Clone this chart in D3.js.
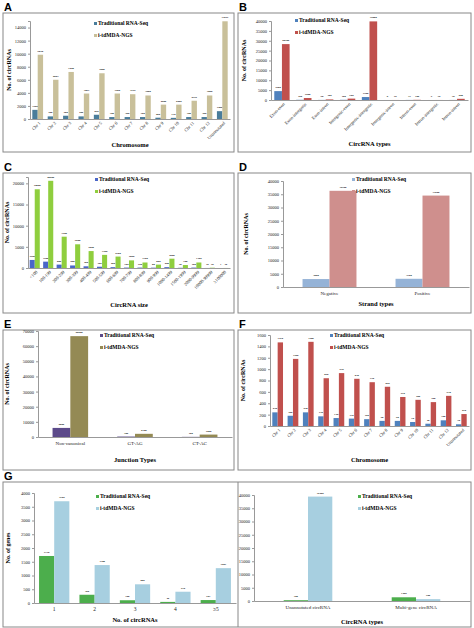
<!DOCTYPE html>
<html><head><meta charset="utf-8">
<script src="https://cdn.jsdelivr.net/npm/d3@7"></script>
<style>
body{margin:0;background:#fff}
svg text{font-family:"Liberation Serif",serif}
.tick line{stroke:#999}
.domain{stroke:#999}
</style></head>
<body><div id="chart-area"></div>
<script>
// ---- data ----
let chrCats = ['Chr 1','Chr 2','Chr 3','Chr 4','Chr 5','Chr 6','Chr 7','Chr 8','Chr 9','Chr 10','Chr 11','Chr 12','Unannotated'];
let aTrad = [1400,400,500,400,650,300,300,300,200,176,300,300,1200];
let aNgs  = [9838,6007,7200,3897,7000,3900,3794,3600,2200,2200,2794,3600,14957];

let typeCats = ['Exon-exon','Exon-intergenic','Exon-intron','Intergenic-exon','Intergenic-intergenic','Intergenic-intron','Intron-exon','Intron-intergenic','Intron-intron'];
let bTrad = [4500,100,50,100,1500,6,37,5,36];
let bNgs  = [28300,1000,300,700,39800,16,100,16,600];

let sizeCats = ['<100','100-199','200-299','300-399','400-499','500-599','600-699','700-799','800-899','900-999','1000-1499','1500-1999','2000-9999','10000-99999','\u2265100000'];
let cTrad = [1900,1500,800,600,400,300,200,100,100,80,200,50,100,10,1];
let cNgs  = [18600,20600,7400,5600,4000,3100,2700,1800,1300,800,2200,700,1300,70,10];

let strandCats = ['Negative','Positive'];
let dTrad = [3000,3100];
let dNgs  = [36300,34500];

let juncCats = ['Non-canonical','GT-AG','CT-AC'];
let eTrad = [6000,300,100];
let eNgs  = [66600,2100,1600];

let fTrad = [240,180,240,170,140,130,120,90,90,70,40,100,30];
let fNgs  = [1470,1180,1480,840,930,830,770,690,510,460,420,530,210];

let numCats = ['1','2','3','4','\u22655'];
let gTrad = [1710,300,100,40,107];
let gNgs  = [3700,1380,680,410,1267];

let geneCats = ['Unannotated circRNA','Multi-gene circRNA'];
let hTrad = [300,1400];
let hNgs  = [39400,700];

let svg = d3.select('#chart-area').append('svg').attr('width',474).attr('height',628);

function panel(c){
    let g = svg.append('g');
    if (c.box) g.append('rect').attr('x',c.box[0]).attr('y',c.box[1]).attr('width',c.box[2]).attr('height',c.box[3])
        .attr('fill','none').attr('stroke','#888').attr('stroke-width',1);
    if (c.letter) g.append('text').attr('x',c.box[0]+1).attr('y',c.box[1]-2)
        .attr('font-weight','bold').attr('font-size',11).style('font-family','Liberation Sans, Arial').text(c.letter);

    let x = d3.scaleBand().domain(c.cats).range([c.x0,c.x1]).paddingInner(c.pad||0.3).paddingOuter((c.pad||0.3)/2);
    let y = d3.scaleLinear().domain([0,c.ymax]).range([c.y0,c.y1]);
    let xs = d3.scaleBand().domain(['t','n']).range([0,x.bandwidth()]);

    let ya = g.append('g').attr('transform','translate('+c.x0+',0)')
        .call(d3.axisLeft(y).tickValues(d3.range(0,c.ymax+1,c.step)).tickFormat(d3.format('d')).tickSize(2).tickPadding(2));
    ya.selectAll('text').attr('font-size',4.5).attr('fill','#222');
    let xa = g.append('g').attr('transform','translate(0,'+c.y0+')')
        .call(d3.axisBottom(x).tickSize(0).tickPadding(4));
    xa.selectAll('text').attr('font-size',c.xfs||4.5).attr('fill','#222');
    if (c.rot) xa.selectAll('text').attr('text-anchor','end').attr('dy','0.3em').attr('dx','-0.2em')
        .attr('transform','rotate(-45)');

    [['t',c.trad,c.col[0]],['n',c.ngs,c.col[1]]].forEach(function(s){
        let data = c.cats.map(function(k,i){ return {k:k,v:s[1][i]}; });
        g.selectAll(null).data(data).enter().append('rect')
            .attr('x',function(d){ return x(d.k)+xs(s[0]); })
            .attr('width',xs.bandwidth())
            .attr('y',function(d){ return y(d.v); })
            .attr('height',function(d){ return c.y0-y(d.v); })
            .attr('fill',s[2]);
        g.selectAll(null).data(data).enter().append('text')
            .attr('x',function(d){ return x(d.k)+xs(s[0])+xs.bandwidth()/2; })
            .attr('y',function(d){ return y(d.v)-3; })
            .attr('text-anchor','middle').attr('font-size',2.8).attr('font-weight','bold')
            .text(function(d){ return d.v; });
    });

    // axis titles
    g.append('text').attr('transform','translate('+c.ytx+','+((c.y0+c.y1)/2)+') rotate(-90)')
        .attr('text-anchor','middle').attr('font-size',6).attr('font-weight','bold').text(c.ytitle);
    g.append('text').attr('x',(c.x0+c.x1)/2).attr('y',c.xty).attr('text-anchor','middle')
        .attr('font-size',6.5).attr('font-weight','bold').text(c.xtitle);

    // legend
    let names = ['Traditional RNA-Seq','i-tdMDA-NGS'];
    names.forEach(function(n,i){
        g.append('rect').attr('x',c.lx).attr('y',c.ly+i*12-3).attr('width',3).attr('height',3).attr('fill',c.col[i]);
        g.append('text').attr('x',c.lx+4).attr('y',c.ly+i*12).attr('font-size',5.5).attr('font-weight','bold').text(n);
    });
}

panel({letter:'A',box:[3,13,231,139],cats:chrCats,trad:aTrad,ngs:aNgs,col:['#4a7d9b','#c9c09a'],
    ymax:15000,step:2000,x0:30,x1:230,y0:119,y1:21,rot:true,ytitle:'No. of circRNAs',ytx:11,
    xtitle:'Chromosome',xty:147,lx:94,ly:25});
panel({letter:'B',box:[238,13,233,139],cats:typeCats,trad:bTrad,ngs:bNgs,col:['#4f81bd','#c0504d'],
    ymax:40000,step:5000,x0:271,x1:468,y0:100,y1:21,rot:true,ytitle:'No. of circRNAs',ytx:246,
    xtitle:'CircRNA types',xty:146,lx:295,ly:22});
panel({letter:'C',box:[3,173,231,140],cats:sizeCats,trad:cTrad,ngs:cNgs,col:['#4a66c8','#8fce3e'],
    ymax:21500,step:5000,x0:28,x1:230,y0:268,y1:177,rot:true,ytitle:'No. of circRNAs',ytx:9,
    xtitle:'CircRNA size',xty:307,lx:95,ly:181,pad:0.25});
panel({letter:'D',box:[238,173,233,140],cats:strandCats,trad:dTrad,ngs:dNgs,col:['#95b3d7','#cf8f8d'],
    ymax:40000,step:5000,x0:283,x1:469,y0:287,y1:181,ytitle:'No. of circRNAs',ytx:248,
    xtitle:'Strand types',xty:306,lx:352,ly:181,pad:0.42,xfs:5});
panel({letter:'E',box:[3,330,231,140],cats:juncCats,trad:eTrad,ngs:eNgs,col:['#5c4a8a','#948a54'],
    ymax:70000,step:10000,x0:38,x1:232,y0:437,y1:331,ytitle:'No. of circRNAs',ytx:9,
    xtitle:'Junction Types',xty:462,lx:100,ly:337,pad:0.45,xfs:5});
panel({letter:'F',box:[238,330,233,140],cats:chrCats,trad:fTrad,ngs:fNgs,col:['#4f81bd','#c0504d'],
    ymax:1600,step:200,x0:270,x1:469,y0:426,y1:335,rot:true,ytitle:'No. of circRNAs',ytx:245,
    xtitle:'Chromosome',xty:462,lx:330,ly:337});
panel({letter:'G',box:[3,482,468,145],cats:numCats,trad:gTrad,ngs:gNgs,col:['#4cae4c','#a7cfe0'],
    ymax:4000,step:500,x0:34,x1:236,y0:603,y1:493,ytitle:'No. of genes',ytx:10,
    xtitle:'No. of circRNAs',xty:622,lx:96,ly:498,pad:0.25,xfs:5.5});
svg.append('line').attr('x1',238).attr('x2',238).attr('y1',482).attr('y2',627).attr('stroke','#888');
panel({cats:geneCats,trad:hTrad,ngs:hNgs,col:['#4cae4c','#a7cfe0'],
    ymax:40000,step:5000,x0:254,x1:470,y0:601,y1:495,ytitle:'',ytx:240,
    xtitle:'CircRNA types',xty:624,lx:358,ly:498,pad:0.55,xfs:5});
</script>
</body></html>
